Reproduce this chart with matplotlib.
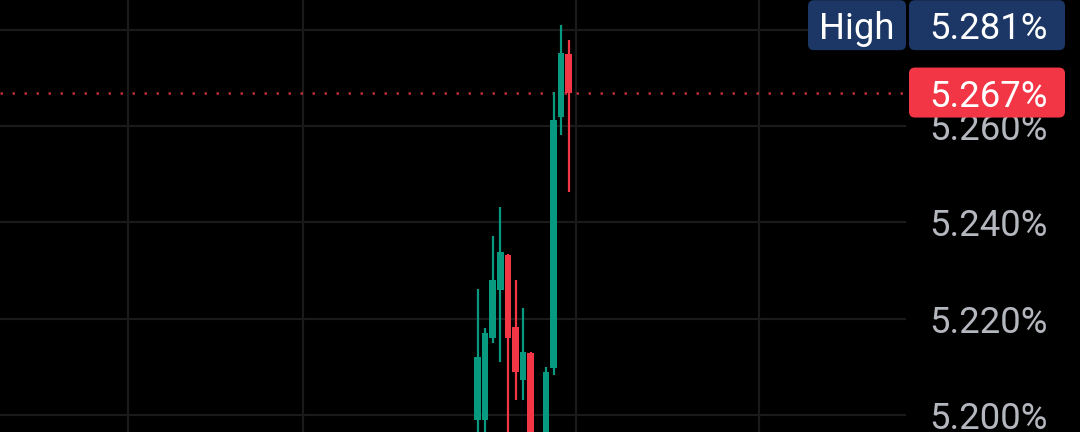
import matplotlib
matplotlib.use("Agg")
import matplotlib.pyplot as plt
from matplotlib.patches import FancyBboxPatch
import numpy as np

# ---- data (yield %, OHLC per candle) ----
opens  = [5.1990, 5.1990, 5.2160, 5.2260, 5.2333, 5.2183, 5.2073, 5.2129, 5.1900, 5.1930, 5.2098, 5.2620, 5.2750]
highs  = [5.2262, 5.2180, 5.2372, 5.2432, 5.2335, 5.2281, 5.2222, 5.2131, 5.1950, 5.2100, 5.2671, 5.2810, 5.2779]
lows   = [5.1900, 5.1930, 5.2150, 5.2110, 5.1900, 5.2031, 5.2031, 5.1880, 5.1880, 5.1900, 5.2083, 5.2582, 5.2463]
closes = [5.2121, 5.2170, 5.2281, 5.2339, 5.2160, 5.2089, 5.2131, 5.1900, 5.1920, 5.2089, 5.2613, 5.2752, 5.2670]

y_ticks = [5.20, 5.22, 5.24, 5.26, 5.28]
y_tick_labels = ["5.200%", "5.220%", "5.240%", "5.260%", "5.280%"]
time_grid = [-46, -23, 13, 37]

high_value = 5.281
high_label = "High"
high_text = "5.281%"
last_value = 5.267
last_text = "5.267%"

UP = "#089981"
DOWN = "#f23645"
FS = 26.3

plt.rcParams['font.family'] = ['Roboto', 'DejaVu Sans']

fig = plt.figure(figsize=(10.8, 4.32), dpi=100, facecolor="black")
ax = fig.add_axes([0, 0, 906/1080, 1])
ax.set_facecolor("black")

x = np.arange(len(opens))
o = np.array(opens); c = np.array(closes); h = np.array(highs); l = np.array(lows)
up = c >= o
colors = np.where(up, UP, DOWN)

ax.vlines(x, l, h, colors=colors, linewidth=1.6, zorder=4)
ax.bar(x, np.abs(c - o), bottom=np.minimum(o, c), width=0.86, color=colors, linewidth=0, zorder=5)

ax.axhline(last_value, color=DOWN, alpha=0.8, linewidth=1.8, linestyle=(0, (1, 3.8)), zorder=3)

ax.set_xlim(-62.83, 56.38)
ax.set_ylim(5.19647, 5.28623)

ax.set_xticks(time_grid)
ax.set_xticklabels([])
ax.set_yticks(y_ticks)
ax.set_yticklabels(y_tick_labels)
ax.yaxis.tick_right()
ax.tick_params(axis='y', length=0, pad=102.2, labelsize=FS, labelcolor="#b4b7be")
ax.tick_params(axis='x', length=0)
for lbl in ax.get_yticklabels():
    lbl.set_ha('right')
ax.grid(True, color="#1a1a1a", linewidth=1.6, zorder=0)
for s in ax.spines.values():
    s.set_visible(False)

fig.canvas.draw()

def ypix(v):
    return ax.transData.transform((0, v))[1]

def add_box(x0, x1, yc, color):
    p = FancyBboxPatch((x0, yc - 25), x1 - x0, 50,
                       boxstyle="round,pad=0,rounding_size=6",
                       facecolor=color, edgecolor="none", transform=None, zorder=10)
    fig.add_artist(p)

yh = ypix(high_value)
yl = ypix(last_value)
add_box(808, 906, yh, "#1c3766")
add_box(909, 1065, yh, "#1c3766")
add_box(909, 1065, yl, DOWN)

fig.text(857, yh, high_label, transform=None, ha='center', va='center_baseline',
         color='white', fontsize=FS, zorder=11)
fig.text(1048, yh, high_text, transform=None, ha='right', va='center_baseline',
         color='white', fontsize=FS, zorder=11)
fig.text(1048, yl, last_text, transform=None, ha='right', va='center_baseline',
         color='white', fontsize=FS, zorder=11)

fig.savefig("out.png", dpi=100, facecolor="black")
